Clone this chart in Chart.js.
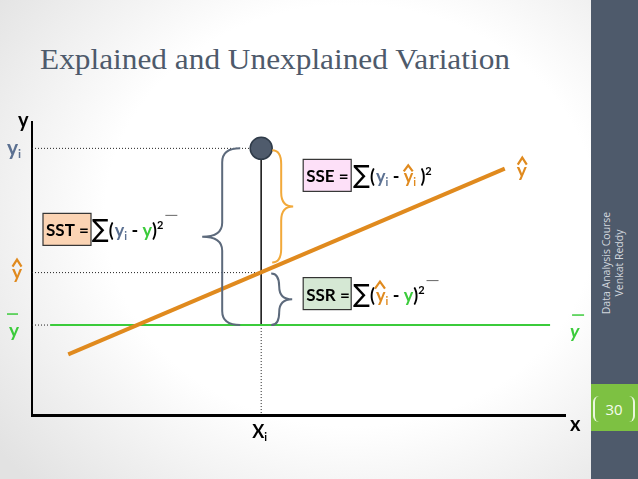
<!DOCTYPE html>
<html>
<head>
<meta charset="utf-8">
<title>Explained and Unexplained Variation</title>
<script src="https://cdn.jsdelivr.net/npm/chart.js"></script>
<style>
    html, body { margin: 0; padding: 0; }
    body {
        width: 638px; height: 479px; overflow: hidden; position: relative;
        background: radial-gradient(ellipse 70% 80% at 55% 45%, #ffffff 55%, #e2e2e2 100%);
    }
    #title {
        position: absolute; left: 40px; top: 44px;
        font-family: "Liberation Serif", serif; font-size: 30px; line-height: 30px; color: #4e5a6b;
        white-space: nowrap; transform-origin: 0 0;
    }
    #side { position: absolute; left: 591px; top: 0; width: 47px; height: 479px; background: #4e5a6b; }
    #sideText {
        position: absolute; left: 613px; top: 263px;
        transform: translate(-50%, -50%) rotate(-90deg);
        color: #d3d8df; font-family: "Open Sans", sans-serif; font-size: 10.5px; line-height: 13px;
        text-align: center; white-space: nowrap;
    }
    #page { position: absolute; left: 591px; top: 384px; width: 47px; height: 47px; background: #7dc142; }
    #page div {
        position: absolute; left: 2px; top: 12px; width: 38px; height: 26px;
        border-left: 2px solid #eaf6de; border-right: 2px solid #eaf6de; border-radius: 6px;
        color: #f4fbee; font-family: "Open Sans", sans-serif; font-size: 15px; line-height: 26px; text-align: center;
    }
    canvas { position: absolute; left: 0; top: 0; }
</style>
</head>
<body>
<div id="title">Explained and Unexplained Variation</div>
<div id="side"></div>
<div id="sideText">Data Analysis Course<br>Venkat Reddy</div>
<div id="page"><div>30</div></div>
<canvas id="chart" width="638" height="479"></canvas>

<script>
    // values (axis units 0..100)
    const xi = 43;          // the observation's x
    const yi = 91;          // observed y
    const yHatI = 48.6;     // fitted value at xi
    const yBar = 30.7;      // mean of y
    const regX = [6.8, 88.7];
    const regY = [20.7, 84.1];
    const meanX = [3.4, 97.2];

    const pts = (xs, ys) => xs.map((x, k) => ({ x: x, y: ys[k] }));

    const GRAYBLUE = '#5b7091';
    const ORANGE = '#e08a1e';
    const GREEN = '#3bcb3b';

    // squeeze the title to the slide's width
    const title = document.getElementById('title');
    title.style.transform = 'scaleX(' + (470 / title.getBoundingClientRect().width) + ')';

    function guide(data, dashed) {
        return {
            data: data, showLine: true, pointRadius: 0,
            borderColor: '#222', borderWidth: 1, borderDash: dashed ? [1, 2] : [], order: 5
        };
    }

    // draw text pieces one after another
    function runs(ctx, x, y, parts) {
        parts.forEach(p => {
            ctx.font = p.font;
            ctx.fillStyle = p.color || '#000';
            ctx.fillText(p.t, x + (p.dx || 0), y + (p.dy || 0));
            x += ctx.measureText(p.t).width + (p.dx || 0);
        });
        return x;
    }

    function hat(ctx, cx, top, w, h, color) {
        ctx.save();
        ctx.strokeStyle = color;
        ctx.lineWidth = 2.2;
        ctx.beginPath();
        ctx.moveTo(cx - w / 2, top + h);
        ctx.lineTo(cx, top);
        ctx.lineTo(cx + w / 2, top + h);
        ctx.stroke();
        ctx.restore();
    }

    function bar(ctx, x1, x2, y, color, lw) {
        ctx.save();
        ctx.strokeStyle = color;
        ctx.lineWidth = lw || 1;
        ctx.beginPath();
        ctx.moveTo(x1, y);
        ctx.lineTo(x2, y);
        ctx.stroke();
        ctx.restore();
    }

    // vertical curly brace; x0 = where the ends sit, dir -1 points left
    function brace(ctx, x0, y1, y2, stem, tip, color, dir) {
        const xs = x0 + dir * stem, xt = x0 + dir * tip, ym = (y1 + y2) / 2;
        const r = Math.min(14, (y2 - y1) / 4);
        ctx.save();
        ctx.strokeStyle = color;
        ctx.lineWidth = 2;
        ctx.beginPath();
        ctx.moveTo(x0, y1);
        ctx.quadraticCurveTo(xs, y1, xs, y1 + r);
        ctx.lineTo(xs, ym - r);
        ctx.quadraticCurveTo(xs, ym, xt, ym);
        ctx.quadraticCurveTo(xs, ym, xs, ym + r);
        ctx.lineTo(xs, y2 - r);
        ctx.quadraticCurveTo(xs, y2, x0, y2);
        ctx.stroke();
        ctx.restore();
    }

    function box(ctx, x, y, w, h, fill, label) {
        ctx.fillStyle = fill;
        ctx.fillRect(x, y, w, h);
        ctx.strokeStyle = '#333';
        ctx.lineWidth = 1.2;
        ctx.strokeRect(x, y, w, h);
        ctx.font = 'bold 17px Lato';
        ctx.fillStyle = '#000';
        ctx.fillText(label, x + 3, y + h - 9);
    }

    const B = 'bold 18px Lato';
    const SUB = 'bold 11px Lato';
    const SIG = '25px "DejaVu Sans"';

    const annotations = {
        id: 'annotations',
        afterDatasetsDraw(chart) {
            const ctx = chart.ctx;
            const xs = chart.scales.x, ys = chart.scales.y;
            const px = xs.getPixelForValue(xi);
            const pYi = ys.getPixelForValue(yi);
            const pHat = ys.getPixelForValue(yHatI);
            const pBar = ys.getPixelForValue(yBar);
            const left = chart.chartArea.left;

            // braces
            brace(ctx, px - 21, pYi, pBar, 18, 38, '#5d6a7c', -1);
            brace(ctx, px + 11, pYi + 2, pHat - 10, 9, 21, '#f2a93a', 1);
            brace(ctx, px + 10, pHat + 1, pBar, 8, 21, '#5d6a7c', 1);

            ctx.textBaseline = 'alphabetic';

            // SST
            box(ctx, left + 11, pYi + 65, 48, 32, '#fbd4b4', 'SST =');
            let x = runs(ctx, left + 60, pYi + 89, [
                { t: '\u2211', font: SIG },
                { t: '(', font: B },
                { t: 'y', font: B, color: GRAYBLUE, dx: 1 },
                { t: 'i', font: SUB, color: GRAYBLUE, dy: 3 },
                { t: ' - ', font: B },
                { t: 'y', font: B, color: GREEN },
                { t: ')', font: B },
                { t: '2', font: SUB, dy: -8 }
            ]);
            bar(ctx, x + 2, x + 14, pYi + 67, '#666', 1);

            // SSE
            const sseX = px + 42, sseY = pYi + 11;
            box(ctx, sseX, sseY, 48, 32, '#fde0f8', 'SSE =');
            x = runs(ctx, sseX + 50, sseY + 24, [
                { t: '\u2211', font: SIG },
                { t: '(', font: B },
                { t: 'y', font: B, color: GRAYBLUE, dx: 1 },
                { t: 'i', font: SUB, color: GRAYBLUE, dy: 3 },
                { t: ' - ', font: B }
            ]);
            hat(ctx, x + 4.5, sseY + 6, 9, 6, ORANGE);
            x = runs(ctx, x, sseY + 24, [
                { t: 'y', font: B, color: ORANGE },
                { t: 'i', font: SUB, color: ORANGE, dy: 3 },
                { t: ' )', font: B },
                { t: '2', font: SUB, dy: -8 }
            ]);

            // SSR
            const ssrX = px + 42, ssrY = pHat + 5;
            box(ctx, ssrX, ssrY, 48, 32, '#d5e8d4', 'SSR =');
            x = runs(ctx, ssrX + 50, ssrY + 24, [
                { t: '\u2211', font: SIG },
                { t: '(', font: B }
            ]);
            hat(ctx, x + 5, ssrY + 4, 10, 7, ORANGE);
            x = runs(ctx, x + 1, ssrY + 24, [
                { t: 'y', font: B, color: ORANGE },
                { t: 'i', font: SUB, color: ORANGE, dy: 3 },
                { t: ' - ', font: B },
                { t: 'y', font: B, color: GREEN },
                { t: ')', font: B },
                { t: '2', font: SUB, dy: -8 }
            ]);
            bar(ctx, x + 2, x + 14, ssrY + 3, '#666', 1);

            // axis letters
            const right = chart.chartArea.right, bottom = chart.chartArea.bottom;
            ctx.font = 'bold 20px Lato';
            ctx.fillStyle = '#000';
            ctx.fillText('y', left - 14, chart.chartArea.top + 5);
            ctx.fillText('x', right + 5, bottom + 16);
            runs(ctx, px - 9, bottom + 23, [
                { t: 'X', font: 'bold 18px Lato' },
                { t: 'i', font: SUB, dy: 3 }
            ]);
            runs(ctx, left - 25, pYi + 7, [
                { t: 'y', font: 'bold 21px Lato', color: GRAYBLUE },
                { t: 'i', font: 'bold 12px Lato', color: GRAYBLUE, dy: 3 }
            ]);

            // y-hat on the left and at the line's end
            ctx.font = 'bold 19px Lato';
            ctx.fillStyle = ORANGE;
            ctx.fillText('y', left - 20, pHat + 6);
            hat(ctx, left - 15, pHat - 13, 9, 7, ORANGE);
            const endX = xs.getPixelForValue(regX[1]), endY = ys.getPixelForValue(regY[1]);
            ctx.fillText('y', endX + 12, endY + 8);
            hat(ctx, endX + 17.5, endY - 11, 9, 7, ORANGE);

            // y-bar on the left and at the line's end
            ctx.fillStyle = GREEN;
            ctx.fillText('y', left - 23, pBar + 12);
            bar(ctx, left - 25, left - 14, pBar - 11, GREEN, 1.5);
            ctx.font = 'italic bold 19px Lato';
            const meanEnd = xs.getPixelForValue(meanX[1]);
            ctx.fillText('y', meanEnd + 20, pBar + 13);
            bar(ctx, meanEnd + 22, meanEnd + 34, pBar - 10, GREEN, 1.5);
        }
    };

    new Chart(document.getElementById('chart'), {
        type: 'scatter',
        data: {
            datasets: [
                {
                    data: pts([xi], [yi]), pointRadius: 11,
                    backgroundColor: '#4f5b6c', borderColor: '#2f3b49', borderWidth: 1.5, order: 0
                },
                {
                    data: pts(regX, regY), showLine: true, pointRadius: 0,
                    borderColor: ORANGE, borderWidth: 4, order: 1
                },
                {
                    data: pts(meanX, [yBar, yBar]), showLine: true, pointRadius: 0,
                    borderColor: GREEN, borderWidth: 2, order: 2
                },
                guide(pts([0, xi], [yi, yi]), true),
                guide(pts([0, xi], [yHatI, yHatI]), true),
                guide(pts([0, meanX[0]], [yBar, yBar]), true),
                guide(pts([xi, xi], [yi, yBar]), false),
                guide(pts([xi, xi], [yBar, 0]), true)
            ]
        },
        options: {
            responsive: false,
            animation: false,
            layout: { padding: { left: 32, right: 73, top: 122, bottom: 64 } },
            plugins: { legend: { display: false }, tooltip: { enabled: false } },
            scales: {
                x: {
                    type: 'linear', min: 0, max: 100,
                    grid: { display: false, drawTicks: false },
                    ticks: { display: false },
                    border: { display: true, color: '#000', width: 3 }
                },
                y: {
                    type: 'linear', min: 0, max: 100,
                    grid: { display: false, drawTicks: false },
                    ticks: { display: false },
                    border: { display: true, color: '#000', width: 2 }
                }
            }
        },
        plugins: [annotations]
    });
</script>
</body>
</html>
